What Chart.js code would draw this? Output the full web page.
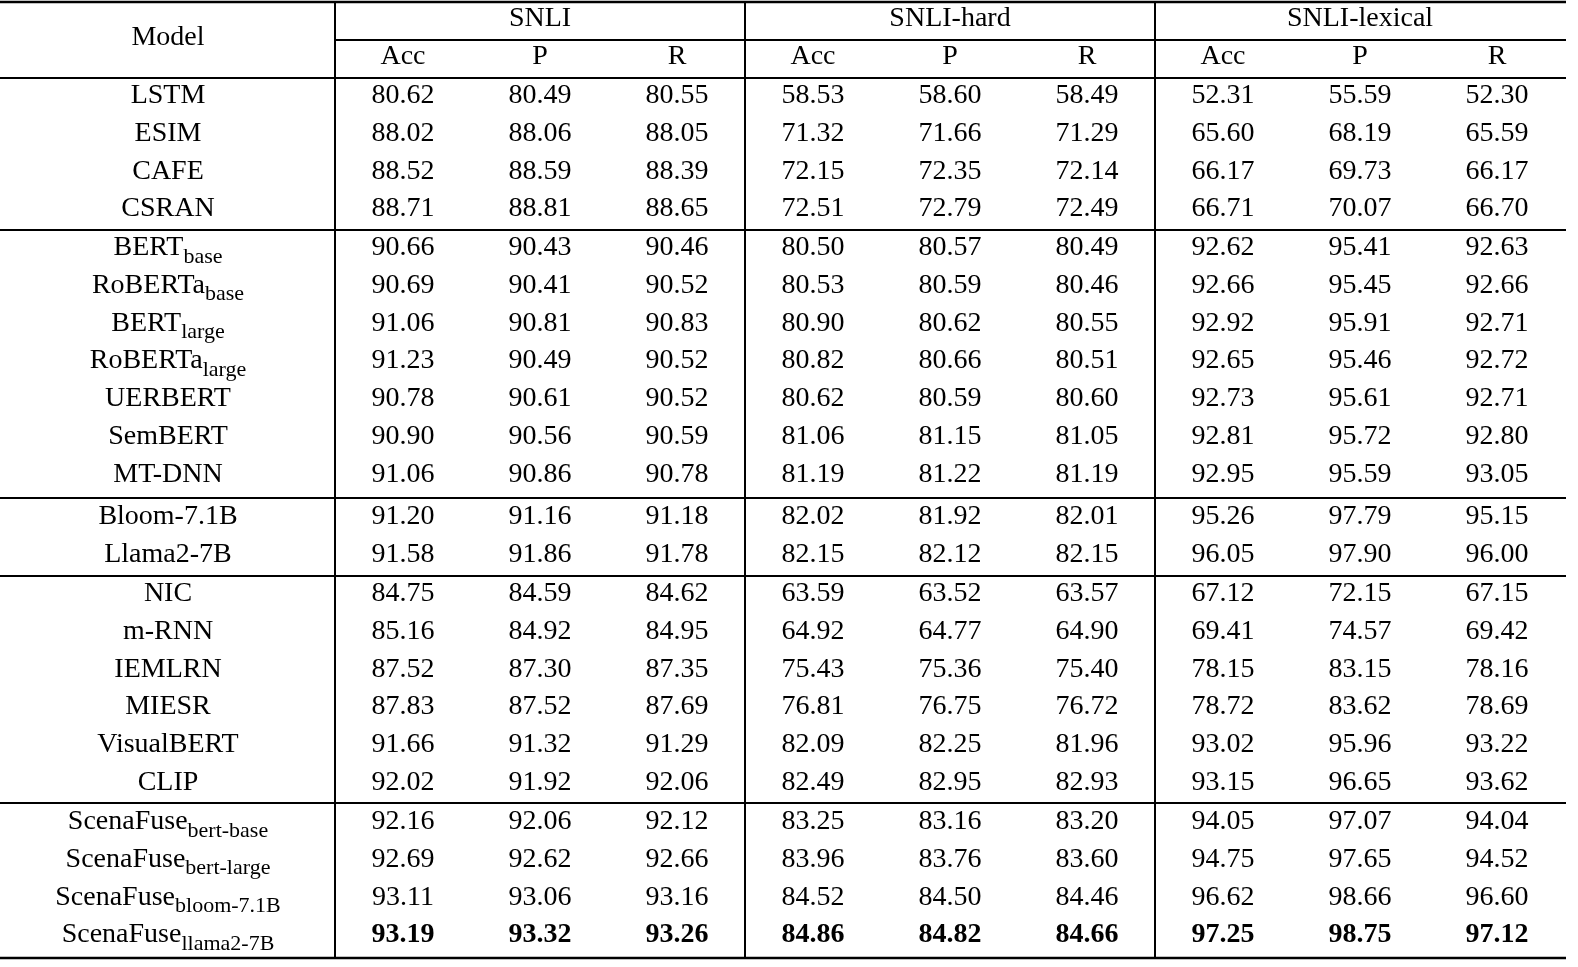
<!DOCTYPE html>
<html><head><meta charset="utf-8">
<script src="https://cdn.jsdelivr.net/npm/chart.js"></script>
<style>html,body{margin:0;padding:0;background:#fff}</style>
</head><body>
<canvas id="c" width="1578" height="967"></canvas>
<script>
const groups = ["SNLI", "SNLI-hard", "SNLI-lexical"];
const metrics = ["Acc", "P", "R"];
const models = ["LSTM","ESIM","CAFE","CSRAN","BERT","RoBERTa","BERT","RoBERTa","UERBERT","SemBERT","MT-DNN","Bloom-7.1B","Llama2-7B","NIC","m-RNN","IEMLRN","MIESR","VisualBERT","CLIP","ScenaFuse","ScenaFuse","ScenaFuse","ScenaFuse"];
const subs = ["","","","","base","base","large","large","","","","","","","","","","","","bert-base","bert-large","bloom-7.1B","llama2-7B"];
const snli = [
[80.62,80.49,80.55],[88.02,88.06,88.05],[88.52,88.59,88.39],[88.71,88.81,88.65],
[90.66,90.43,90.46],[90.69,90.41,90.52],[91.06,90.81,90.83],[91.23,90.49,90.52],[90.78,90.61,90.52],[90.90,90.56,90.59],[91.06,90.86,90.78],
[91.20,91.16,91.18],[91.58,91.86,91.78],
[84.75,84.59,84.62],[85.16,84.92,84.95],[87.52,87.30,87.35],[87.83,87.52,87.69],[91.66,91.32,91.29],[92.02,91.92,92.06],
[92.16,92.06,92.12],[92.69,92.62,92.66],[93.11,93.06,93.16],[93.19,93.32,93.26]];
const snliHard = [
[58.53,58.60,58.49],[71.32,71.66,71.29],[72.15,72.35,72.14],[72.51,72.79,72.49],
[80.50,80.57,80.49],[80.53,80.59,80.46],[80.90,80.62,80.55],[80.82,80.66,80.51],[80.62,80.59,80.60],[81.06,81.15,81.05],[81.19,81.22,81.19],
[82.02,81.92,82.01],[82.15,82.12,82.15],
[63.59,63.52,63.57],[64.92,64.77,64.90],[75.43,75.36,75.40],[76.81,76.75,76.72],[82.09,82.25,81.96],[82.49,82.95,82.93],
[83.25,83.16,83.20],[83.96,83.76,83.60],[84.52,84.50,84.46],[84.86,84.82,84.66]];
const snliLex = [
[52.31,55.59,52.30],[65.60,68.19,65.59],[66.17,69.73,66.17],[66.71,70.07,66.70],
[92.62,95.41,92.63],[92.66,95.45,92.66],[92.92,95.91,92.71],[92.65,95.46,92.72],[92.73,95.61,92.71],[92.81,95.72,92.80],[92.95,95.59,93.05],
[95.26,97.79,95.15],[96.05,97.90,96.00],
[67.12,72.15,67.15],[69.41,74.57,69.42],[78.15,83.15,78.16],[78.72,83.62,78.69],[93.02,95.96,93.22],[93.15,96.65,93.62],
[94.05,97.07,94.04],[94.75,97.65,94.52],[96.62,98.66,96.60],[97.25,98.75,97.12]];
const blockSizes = [4,7,2,6,4];
const boldRow = 22;

// layout (pixel-space scale values)
const colX = [168,403,540,677,813,950,1087,1223,1360,1497];
const vLines = [335,745,1155];
const groupCenters = [540,950,1360];
const blockStarts = [96,248,517,594,822];
const rowStep = 37.7;

const tablePlugin = {
  id:'table',
  afterDraw(chart){
    const ctx = chart.ctx, X = v=>chart.scales.x.getPixelForValue(v), Y = v=>chart.scales.y.getPixelForValue(v);
    const F = (w,s)=>`${w} ${s}px "Liberation Serif", "DejaVu Serif", serif`;
    ctx.save();
    ctx.fillStyle='#000'; ctx.strokeStyle='#000';
    const hline=(y,x0,x1,w)=>{ctx.lineWidth=w;ctx.beginPath();ctx.moveTo(X(x0),Y(y));ctx.lineTo(X(x1),Y(y));ctx.stroke();};
    const vline=(x,y0,y1)=>{ctx.lineWidth=2;ctx.beginPath();ctx.moveTo(X(x),Y(y0));ctx.lineTo(X(x),Y(y1));ctx.stroke();};
    hline(2,0,1566,2.5); hline(78,0,1566,2); hline(958,0,1566,2.5);
    [230,498,576,803].forEach(y=>hline(y,0,1566,2));
    vLines.forEach((x,i)=>{vline(x,2,958); hline(40,x,i<2?vLines[i+1]:1566,2);});
    ctx.textBaseline='middle'; ctx.textAlign='center';
    ctx.font=F('normal',28);
    ctx.fillText('Model',X(colX[0]),Y(38));
    groups.forEach((g,i)=>ctx.fillText(g,X(groupCenters[i]),Y(19)));
    for(let g=0;g<3;g++) metrics.forEach((m,j)=>ctx.fillText(m,X(colX[1+g*3+j]),Y(57)));
    const rowY=[]; let r=0;
    blockSizes.forEach((n,b)=>{for(let k=0;k<n;k++) rowY[r++]=blockStarts[b]+k*rowStep;});
    const all=[snli,snliHard,snliLex];
    models.forEach((name,i)=>{
      const y=Y(rowY[i]);
      ctx.font=F('normal',28);
      if(subs[i]){
        ctx.textAlign='left';
        const w1=ctx.measureText(name).width; ctx.font=F('normal',22);
        const w2=ctx.measureText(subs[i]).width; const x0=X(colX[0])-(w1+w2)/2;
        ctx.font=F('normal',28); ctx.fillText(name,x0,y);
        ctx.font=F('normal',22); ctx.fillText(subs[i],x0+w1,y+9);
        ctx.textAlign='center';
      } else ctx.fillText(name,X(colX[0]),y);
      ctx.font=F(i===boldRow?'bold':'normal',28);
      all.forEach((arr,g)=>arr[i].forEach((v,j)=>ctx.fillText(v.toFixed(2),X(colX[1+g*3+j]),y)));
    });
    ctx.restore();
  }
};
new Chart(document.getElementById('c'),{
  type:'scatter',
  data:{datasets:[{data:[]}]},
  options:{responsive:false,animation:false,devicePixelRatio:1,
    layout:{padding:0},
    plugins:{legend:{display:false},tooltip:{enabled:false}},
    scales:{x:{type:'linear',min:0,max:1578,display:false},y:{type:'linear',min:0,max:967,reverse:true,display:false}}},
  plugins:[tablePlugin]
});
</script>
</body></html>
